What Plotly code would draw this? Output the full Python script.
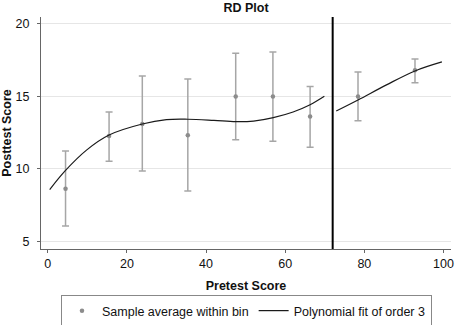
import plotly.graph_objects as go

# Binned sample averages with their confidence bounds
bin_x = [4.5, 15.5, 23.9, 35.4, 47.5, 56.9, 66.3, 78.4, 92.8]
bin_mean = [8.64, 12.28, 13.1, 12.32, 15.0, 15.0, 13.61, 14.99, 16.8]
bin_upper = [11.24, 13.93, 16.41, 16.2, 17.98, 18.07, 15.68, 16.69, 17.59]
bin_lower = [6.07, 10.53, 9.86, 8.48, 12.02, 11.91, 11.5, 13.33, 15.95]

# Third-order polynomial fit, sampled on each side of the cutoff
fit_left_x = [0.5, 4.5, 9.8, 15.5, 23.9, 30, 35.4, 42, 47.5, 52, 57, 62, 66.3, 69.9]
fit_left_y = [8.58, 9.9, 11.3, 12.34, 13.1, 13.4, 13.43, 13.35, 13.26, 13.3, 13.54, 13.93, 14.43, 15.01]
fit_right_x = [72.9, 78.4, 85.6, 92.8, 99.6]
fit_right_y = [14.0, 14.76, 15.8, 16.76, 17.38]

cutoff = 72
x_ticks = [0, 20, 40, 60, 80, 100]
y_ticks = [5, 10, 15, 20]

FONT = "Liberation Sans, Arial, sans-serif"

err_plus = [u - m for u, m in zip(bin_upper, bin_mean)]
err_minus = [m - l for m, l in zip(bin_mean, bin_lower)]

fig = go.Figure()

fig.add_trace(go.Scatter(
    x=bin_x, y=bin_mean, mode="markers",
    name="Sample average within bin",
    marker=dict(color="#8c8c8c", size=4.5),
    error_y=dict(type="data", symmetric=False, array=err_plus, arrayminus=err_minus,
                 color="#a6a6a6", thickness=1.5, width=3.5),
))

fig.add_trace(go.Scatter(
    x=fit_left_x, y=fit_left_y, mode="lines",
    name="Polynomial fit of order 3",
    line=dict(color="#1a1a1a", width=1.2, shape="spline"),
))
fig.add_trace(go.Scatter(
    x=fit_right_x, y=fit_right_y, mode="lines",
    showlegend=False,
    line=dict(color="#1a1a1a", width=1.2, shape="spline"),
))

# Cutoff marker
fig.add_shape(type="line", x0=cutoff, x1=cutoff, y0=0, y1=1,
              xref="x", yref="paper", line=dict(color="black", width=2))

fig.update_layout(
    width=474, height=325,
    margin=dict(l=41, r=23, t=17, b=76),
    paper_bgcolor="white", plot_bgcolor="white",
    font=dict(family=FONT, size=12, color="#111"),
    title=dict(text="<b>RD Plot</b>", x=0.5, xref="paper", xanchor="center",
               y=1 - 7.5 / 325, yref="container", yanchor="middle",
               font=dict(size=12.5, color="#111")),
    legend=dict(orientation="h", x=0.52, xanchor="center", xref="container",
                y=1 - 295 / 325, yanchor="top", yref="container",
                bordercolor="#888", borderwidth=1, bgcolor="white",
                font=dict(size=12.5, color="#111"), itemwidth=30,
                tracegroupgap=0),
)

fig.update_xaxes(
    range=[-1.7, 101.9], tickvals=x_ticks, showgrid=False, zeroline=False,
    showline=True, linecolor="#666", linewidth=1.3, automargin=False,
    ticks="outside", ticklen=3, tickcolor="#666",
    tickfont=dict(size=12.5, color="#111"),
    title=dict(text="<b>Pretest Score</b>", standoff=11, font=dict(size=12.5)),
)
fig.update_yaxes(
    range=[4.48, 20.48], tickvals=y_ticks, showgrid=True, gridcolor="#e6e6e6",
    gridwidth=1, zeroline=False, automargin=False,
    showline=True, linecolor="#666", linewidth=1.3,
    ticks="outside", ticklen=3, tickcolor="#666", ticklabelstandoff=5,
    tickfont=dict(size=12.5, color="#111"),
    title=dict(text="<b>Posttest Score</b>", standoff=4, font=dict(size=12.5)),
)

fig.write_html("out.html")
